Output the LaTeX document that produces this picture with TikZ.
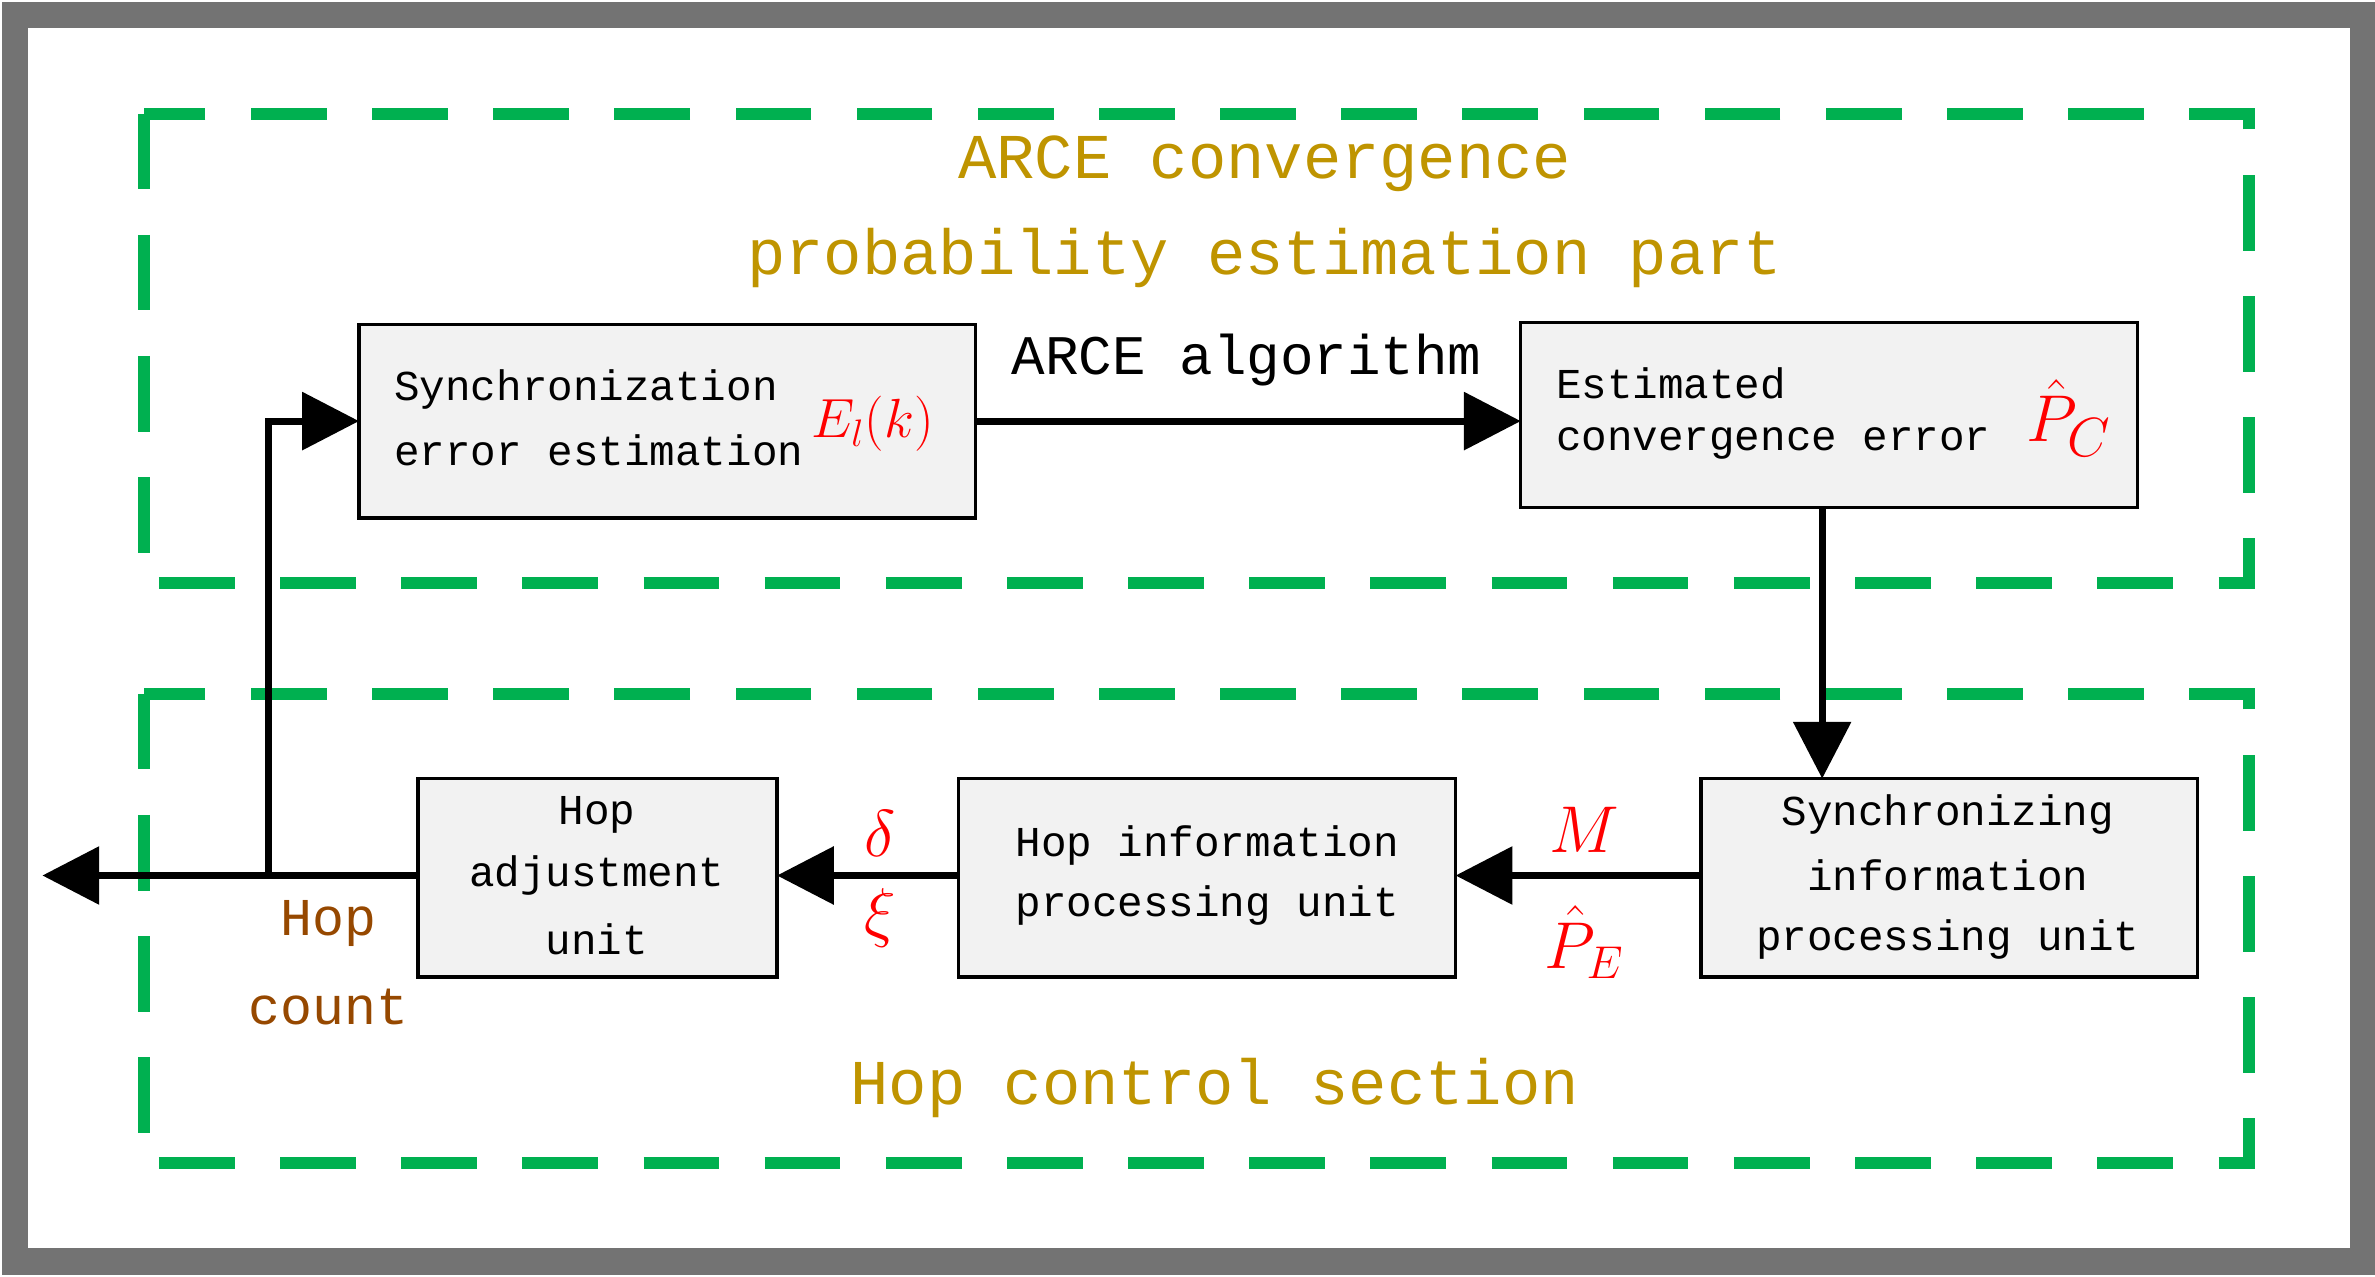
\documentclass[tikz,border=0pt]{standalone}
\usepackage{fontspec}
\setmonofont{Liberation Mono}
\usetikzlibrary{arrows.meta}
\definecolor{gold}{RGB}{191,148,0}
\definecolor{grn}{RGB}{0,176,80}
\definecolor{brn}{RGB}{150,72,0}
\definecolor{boxfill}{RGB}{242,242,242}
\tikzset{
 blk/.style={draw=black,line width=1.2pt,fill=boxfill},
 grp/.style={draw=grn,line width=4.5pt,dash pattern=on 1cm off 0.6cm},
 arr/.style={line width=2.6pt,-{Triangle[length=0.75cm,width=0.75cm]}},
 txt/.style={font=\ttfamily\fontsize{16}{20}\selectfont,inner sep=0pt},
 ttl/.style={font=\ttfamily\fontsize{24}{30}\selectfont,text=gold,inner sep=0pt},
 mth/.style={text=red,inner sep=0pt},
}
\begin{document}
\begin{tikzpicture}[x=0.02cm,y=-0.02cm]
\useasboundingbox (0,0) rectangle (1568,843);
\draw[draw=gray!90!black,line width=10pt] (10,10) rectangle (1560,833);
\draw[grp] (95,75) rectangle (1485,385);
\draw[grp] (95,458) rectangle (1485,768);
\node[ttl] (t1) at (835,108) {ARCE convergence};
\node[ttl] (t2) at (835,170) {probability estimation part};
\node[ttl] (t3) at (802,718) {Hop control section};
\path[blk] (237,214) rectangle (644,342); \coordinate (b1w) at (237,278); \coordinate (b1e) at (644,278);
\path[blk] (1004,213) rectangle (1411,335); \coordinate (b2w) at (1004,278); \coordinate (b2s) at (1203,335);
\path[blk] (1123,514) rectangle (1451,645); \coordinate (b3n) at (1203,514); \coordinate (b3w) at (1123,578);
\path[blk] (633,514) rectangle (961,645); \coordinate (b4e) at (961,578); \coordinate (b4w) at (633,578);
\path[blk] (276,514) rectangle (513,645); \coordinate (b5e) at (513,578); \coordinate (b5w) at (276,578);
\node[txt,anchor=west] (s1) at (260,257) {Synchronization};
\node[txt,anchor=west] (s2) at (260,297) {error estimation};
\node[txt,anchor=west] (e1) at (1027,253) {Estimated};
\node[txt,anchor=west] (e2) at (1027,293) {convergence error};
\node[txt] (y1) at (1286,538) {Synchronizing};
\node[txt] (y2) at (1286,578) {information};
\node[txt] (y3) at (1286,620) {processing unit};
\node[txt] (h1) at (797,558) {Hop information};
\node[txt] (h2) at (797,598) {processing unit};
\node[txt] (a1) at (394,538) {Hop};
\node[txt] (a2) at (394,578) {adjustment};
\node[txt] (a3) at (394,620) {unit};
\node[font=\ttfamily\fontsize{21}{26}\selectfont,inner sep=0pt] (alg) at (823,238) {ARCE algorithm};
\node[mth,font=\fontsize{20}{24}\selectfont] (el) at (576,280) {$E_l(k)$};
\node[mth,font=\fontsize{28}{32}\selectfont] (pc) at (1366,276) {$\hat P_C$};
\node[mth,font=\fontsize{26}{30}\selectfont] (m) at (1046,548) {$M$};
\node[mth,font=\fontsize{26}{30}\selectfont] (pe) at (1046,622) {$\hat P_E$};
\node[mth,font=\fontsize{26}{30}\selectfont] (d) at (581,550) {$\delta$};
\node[mth,font=\fontsize{26}{30}\selectfont] (x) at (581,606) {$\xi$};
\node[font=\ttfamily\fontsize{20}{25}\selectfont,text=brn,inner sep=0pt] (hc1) at (217,610) {Hop};
\node[font=\ttfamily\fontsize{20}{25}\selectfont,text=brn,inner sep=0pt] (hc2) at (217,665) {count};
\coordinate (out) at (28,578);
\coordinate (j) at (177,578);
\coordinate (jt) at (177,278);
\draw[arr] (b1e) -- (b2w);
\draw[arr] (b2s) -- (b3n);
\draw[arr] (b3w) -- (b4e);
\draw[arr] (b4w) -- (b5e);
\draw[arr] (b5w) -- (out);
\draw[arr] (j) -- (jt) -- (b1w);
\end{tikzpicture}
\end{document}
